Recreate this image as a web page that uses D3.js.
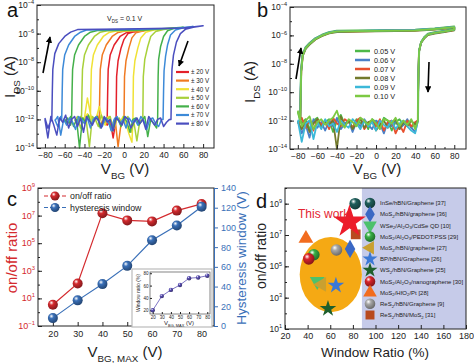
<!DOCTYPE html>
<html>
<head>
<meta charset="utf-8">
<script src="https://cdn.jsdelivr.net/npm/d3@7"></script>
<style>
body { margin: 0; background: #fff; }
svg { display: block; font-family: "Liberation Sans", Arial, sans-serif; }
</style>
</head>
<body>
<script>
// ---------- panel a: transfer curves for different sweep ranges ----------
var sweepMax = [20, 30, 40, 50, 60, 70, 80];
var sweepLabels = ["± 20 V", "± 30 V", "± 40 V", "± 50 V", "± 60 V", "± 70 V", "± 80 V"];
// on-state branches, [V, log10 I]
var aUp = [
  [[-17,-12],[-16.5,-10],[-16,-8.5],[-14,-7.5],[-10,-6.8],[-4,-6.2],[2,-5.95],[8,-5.86],[20,-5.8]],
  [[-25,-12],[-24.5,-10],[-24,-8.5],[-22,-7.5],[-18,-6.8],[-12,-6.2],[-6,-5.92],[0,-5.84],[30,-5.72]],
  [[-34,-12],[-33.5,-10],[-33,-8.5],[-31,-7.5],[-27,-6.8],[-21,-6.2],[-15,-5.92],[-8,-5.82],[20,-5.78],[40,-5.66]],
  [[-43,-12],[-42.5,-10],[-42,-8.5],[-40,-7.5],[-36,-6.8],[-30,-6.2],[-24,-5.9],[-17,-5.8],[20,-5.76],[50,-5.62]],
  [[-53,-12],[-52.5,-10],[-52,-8.5],[-50,-7.5],[-46,-6.8],[-40,-6.2],[-34,-5.9],[-27,-5.78],[20,-5.74],[60,-5.56]],
  [[-63,-12],[-62.5,-10],[-62,-8.5],[-60,-7.5],[-56,-6.8],[-50,-6.2],[-44,-5.9],[-38,-5.75],[0,-5.72],[50,-5.65],[70,-5.5]],
  [[-73,-12],[-72.5,-10],[-72,-8.5],[-70,-7.4],[-66,-6.7],[-60,-6.2],[-54,-5.9],[-47,-5.72],[0,-5.68],[60,-5.6],[80,-5.45]]
];
var aDown = [
  [[20,-5.8],[10,-5.88],[4,-6.0],[0,-6.4],[-3,-7.0],[-6,-7.9],[-7.5,-9],[-8,-12]],
  [[30,-5.72],[20,-5.8],[12,-5.95],[8,-6.3],[5,-7.0],[2,-7.9],[0.5,-9],[0,-12]],
  [[40,-5.66],[30,-5.75],[22,-5.9],[17,-6.3],[14,-7.0],[11,-7.9],[9.5,-9],[9,-12]],
  [[50,-5.62],[40,-5.72],[32,-5.85],[27,-6.2],[24,-6.9],[21,-7.8],[19.5,-9],[19,-12]],
  [[60,-5.56],[50,-5.65],[44,-5.8],[40,-6.2],[37,-6.9],[35,-7.8],[34.5,-9],[34,-12]],
  [[70,-5.5],[60,-5.6],[52,-5.75],[47,-6.1],[44,-6.8],[42,-7.6],[40.5,-8.6],[40,-10],[39.5,-12]],
  [[80,-5.45],[70,-5.55],[62,-5.7],[57,-6.0],[53,-6.6],[50,-7.5],[48.5,-8.5],[48,-10],[47.5,-12]]
];
// off-state noise, log10 I every 3 V starting at -Vmax
var aOffUp = [
  [-12.2,-11.9,-12.3],
  [-12.1,-11.8,-12.4],
  [-12.0,-11.6,-12.3],
  [-12.0,-12.4,-11.8],
  [-12.2,-11.9,-12.4],
  [-12.0,-12.5,-11.8],
  [-11.9,-12.6,-12.1]
];
var aOffDown = [
  [-11.9,-12.4,-12.1,-13.3],
  [-12.0,-11.7,-12.5,-11.9,-12.2,-11.8,-12.6,-12.0,-13.9,-12.3],
  [-11.9,-10.5,-11.6,-12.2,-11.9,-11.1,-12.0,-12.4,-11.8,-12.1,-12.6,-11.9,-12.2,-11.8,-12.3,-13.0,-13.6],
  [-12.1,-11.8,-12.6,-11.9,-12.2,-13.9,-11.8,-12.0,-12.5,-11.7,-12.2,-12.0,-11.8,-12.7,-12.1,-11.9,-12.3,-12.0,-11.8,-12.9,-12.2,-13.5,-12.1],
  [-12.0,-12.3,-11.8,-12.5,-12.0,-14.0,-11.9,-12.2,-11.7,-12.4,-12.0,-11.8,-12.6,-12.1,-11.9,-12.3,
   -12.8,-11.9,-12.0,-12.5,-11.8,-12.2,-12.9,-12.0,-11.9,-12.4,-12.1,-11.8,-13.2,-12.0,-12.3,-12.6],
  [-12.1,-11.8,-13.1,-12.0,-12.4,-11.9,-12.2,-12.7,-11.8,-12.0,-12.3,-11.9,-12.6,-12.0,-11.8,-12.2,
   -12.5,-11.9,-12.1,-12.8,-12.0,-11.8,-12.3,-12.0,-12.6,-11.9,-12.2,-12.0,-12.4,-11.8,-12.1,-12.7,-12.0,-11.9,-12.3,-12.5,-12.0],
  [-12.0,-13.3,-11.8,-12.4,-13.1,-11.9,-12.2,-11.7,-12.6,-12.0,-11.8,-12.5,-11.9,-12.9,-11.8,-12.1,
   -12.4,-11.9,-12.0,-12.6,-11.8,-12.2,-12.0,-12.8,-11.9,-12.1,-12.4,-11.8,-12.0,-12.6,-12.2,-11.9,
   -12.3,-12.0,-12.7,-11.8,-12.1,-12.4,-12.0,-11.9,-12.5,-12.2,-12.0]
];
var aColors = ["#e3202a", "#f07a22", "#f0e236", "#a8d03a", "#44b04a", "#3d8ad8", "#4a4ebf"];

// ---------- panel b: different drain voltages ----------
var dsLabels = ["0.05 V", "0.06 V", "0.07 V", "0.08 V", "0.09 V", "0.10 V"];
var bUp = [
  [[-77.8,-12],[-77.3,-10],[-76.8,-8.5],[-75.3,-7.35],[-72.3,-6.85],[-68.3,-6.55],[-62.3,-6.2],[-55.3,-5.95],[-48.3,-5.77],[-40.3,-5.67],[0,-5.63],[40,-5.59],[60,-5.5],[80,-5.37]],
  [[-77.6,-12],[-77.1,-10],[-76.6,-8.5],[-75.1,-7.38],[-72.1,-6.88],[-68.1,-6.58],[-62.1,-6.22],[-55.1,-5.97],[-48.1,-5.8],[-40.1,-5.7],[0,-5.66],[40,-5.62],[60,-5.53],[80,-5.4]],
  [[-77.5,-12],[-77,-10],[-76.5,-8.5],[-75,-7.42],[-72,-6.92],[-68,-6.62],[-62,-6.26],[-55,-6.01],[-48,-5.83],[-40,-5.73],[0,-5.69],[40,-5.65],[60,-5.57],[80,-5.44]],
  [[-77.4,-12],[-76.9,-10],[-76.4,-8.5],[-74.9,-7.45],[-71.9,-6.95],[-67.9,-6.65],[-61.9,-6.29],[-54.9,-6.04],[-47.9,-5.86],[-39.9,-5.76],[0,-5.72],[40,-5.68],[60,-5.6],[80,-5.47]],
  [[-77.6,-12],[-77.1,-10],[-76.6,-8.5],[-75.1,-7.4],[-72.1,-6.9],[-68.1,-6.6],[-62.1,-6.24],[-55.1,-5.99],[-48.1,-5.81],[-40.1,-5.71],[0,-5.67],[40,-5.63],[60,-5.55],[80,-5.42]],
  [[-77.5,-12],[-77,-10],[-76.5,-8.5],[-75,-7.4],[-72,-6.9],[-68,-6.6],[-62,-6.25],[-55,-6.0],[-48,-5.82],[-40,-5.72],[0,-5.68],[40,-5.64],[60,-5.55],[80,-5.42]]
];
var bDown = [
  [[80,-5.55],[70,-5.67],[60,-5.77],[53,-5.88],[49.5,-6.1],[46.2,-6.45],[44.2,-7.05],[43.6,-8.5],[43.2,-10],[43,-12]],
  [[80,-5.58],[70,-5.7],[60,-5.8],[53,-5.91],[49.5,-6.13],[46.1,-6.48],[44.1,-7.08],[43.5,-8.5],[43.1,-10],[42.9,-12]],
  [[80,-5.62],[70,-5.74],[60,-5.84],[53,-5.95],[49.5,-6.17],[46,-6.52],[44,-7.12],[43.4,-8.5],[43,-10],[42.8,-12]],
  [[80,-5.65],[70,-5.77],[60,-5.87],[53,-5.98],[49.5,-6.2],[45.9,-6.55],[43.9,-7.15],[43.3,-8.5],[42.9,-10],[42.7,-12]],
  [[80,-5.6],[70,-5.72],[60,-5.82],[53,-5.93],[49.5,-6.15],[46,-6.5],[44,-7.1],[43.4,-8.5],[43,-10],[42.8,-12]],
  [[80,-5.6],[70,-5.72],[60,-5.82],[53,-5.93],[49.5,-6.15],[46,-6.5],[44,-7.1],[43.4,-8.5],[43,-10],[42.8,-12]]
];
// off-state noise, log10 I every 4 V starting at -80 V
var bOff = [
  [-11.4,-12.2,-11.9,-12.6,-12.0,-11.8,-12.4,-12.1,-11.9,-12.8,-12.0,-11.6,-12.3,-12.0,-12.5,-11.9,
   -12.2,-12.0,-12.6,-11.9,-12.1,-12.4,-11.8,-12.0,-12.7,-12.1,-11.9,-12.3,-12.0,-12.5,-12.2],
  [-12.0,-12.9,-12.3,-13.2,-11.9,-12.5,-12.1,-12.7,-12.0,-12.4,-11.8,-12.6,-12.2,-12.0,-12.8,-12.1,
   -12.4,-11.9,-12.3,-12.6,-12.0,-12.2,-12.9,-12.1,-12.4,-12.0,-12.6,-12.3,-11.9,-12.5,-12.8],
  [-12.2,-11.8,-12.5,-12.0,-12.7,-11.9,-12.3,-12.0,-12.6,-11.8,-12.2,-12.4,-11.9,-12.1,-12.5,-12.0,
   -11.8,-12.6,-12.2,-12.0,-12.4,-11.9,-12.7,-12.1,-12.0,-12.9,-12.3,-12.8,-12.0,-12.4,-12.1],
  [-12.1,-12.6,-12.0,-12.8,-12.2,-11.9,-12.5,-12.1,-12.3,-12.0,-14.0,-11.7,-12.4,-12.0,-12.6,-12.2,
   -11.9,-12.5,-12.1,-12.0,-12.7,-12.3,-12.0,-12.5,-12.2,-11.9,-12.6,-12.1,-12.4,-12.0,-12.3],
  [-12.0,-13.5,-12.2,-12.0,-13.3,-12.1,-12.6,-11.9,-12.4,-12.2,-12.8,-12.0,-12.3,-12.5,-11.9,-12.2,
   -12.6,-12.0,-12.4,-12.1,-12.7,-12.0,-12.3,-12.5,-12.0,-12.6,-12.2,-12.0,-12.4,-12.7,-12.9],
  [-11.3,-12.4,-12.0,-11.7,-12.6,-12.1,-11.9,-12.3,-12.0,-11.8,-11.3,-12.2,-12.5,-11.9,-12.1,-12.4,
   -11.8,-12.0,-12.3,-11.9,-12.2,-12.6,-11.9,-12.0,-12.2,-11.8,-12.4,-12.0,-12.3,-11.9,-12.6]
];
var bColors = ["#4db848", "#4a80c8", "#e8502e", "#737a2c", "#3cb8d8", "#7cc943"];

// ---------- panel c ----------
var vbgMax = [20, 30, 40, 50, 60, 70, 80];
var onOffRatio = [3.5, 120, 1.5e7, 4.5e6, 3.8e6, 2.3e7, 7e7];
var hysWindow = [8, 26, 42.5, 61, 87, 102, 121];
var windowRatio = [20, 43, 53, 61, 72, 73, 76];

// ---------- panel d ----------
var devNames = [
  ["InSe/hBN/Graphene [37]"],
  ["MoS", "2", "/hBN/graphene [36]"],
  ["WSe", "2", "/Al", "2", "O", "3", "/CdSe QD [10]"],
  ["MoS", "2", "/Al", "2", "O", "3", "/PEDOT:PSS [29]"],
  ["MoS", "2", "/hBN/graphene [27]"],
  ["BP/hBN/Graphene [26]"],
  [" WS", "2", "/hBN/Graphene [25]"],
  ["MoS", "2", "/Al", "2", "O", "3", "/nanographene [30]"],
  ["MoS", "2", "/HfO", "2", "/Pt [28]"],
  ["ReS", "2", "/hBN/Graphene [9]"],
  ["ReS", "2", "/hBN/MoS", "2", " [31]"]
];
var devRatio = [82, 77.5, 48.5, 45.5, 52.5, 65, 58, 41, 38.5, 65.5, 82.5];
var devOnOff = [1e9, 1.3e6, 1.1e4, 5.5e5, 7e3, 6e3, 200, 3e5, 6e6, 1.1e6, 1.1e7];
var devShape = ["sphere", "diamond", "triDown", "sphere", "triLeft", "star", "star", "sphere", "triUp", "sphere", "square"];
var devColors = ["#1f5f5c", "#3a68c4", "#4cc16c", "#38b045", "#c9a030", "#3b78d6", "#1e5f2c", "#d8232a", "#f26c1e", "#a8a8a8", "#b84a1e"];
var thisWork = { ratio: 77, onOff: 7e7 };
var ellipseC = { ratio: 60.5, onOff: 3e4, halfRatio: 27.5, halfDecades: 2.4 };
var shadeFrom = 88;

// ================= drawing =================
var svg = d3.select("body").append("svg").attr("width", 474).attr("height", 363);
var defs = svg.append("defs");
defs.append("marker").attr("id", "arr").attr("viewBox", "0 0 10 10")
  .attr("refX", 9).attr("refY", 5).attr("markerWidth", 4).attr("markerHeight", 4)
  .attr("orient", "auto")
  .append("path").attr("d", "M0,0 L10,5 L0,10 z").attr("fill", "#000");

var gradN = 0;
function sphereFill(color) {
  var id = "sph" + (gradN++);
  var g = defs.append("radialGradient").attr("id", id)
    .attr("cx", "38%").attr("cy", "35%").attr("r", "65%").attr("fx", "35%").attr("fy", "30%");
  g.append("stop").attr("offset", "0%").attr("stop-color", "#ffffff");
  g.append("stop").attr("offset", "35%").attr("stop-color", color);
  g.append("stop").attr("offset", "100%").attr("stop-color", d3.color(color).darker(1.3));
  return "url(#" + id + ")";
}

function powLabel(g, x, y, exp, anchor, size, color) {
  var t = g.append("text").attr("x", x).attr("y", y).attr("text-anchor", anchor)
    .attr("font-size", size).attr("fill", color || "#222");
  t.append("tspan").text("10");
  t.append("tspan").attr("dy", -size * 0.45).attr("font-size", size * 0.65).text(exp);
  return t;
}

// parts: array of [text, isSub]
function richText(g, x, y, parts, size, color, rotate) {
  var t = g.append("text").attr("font-size", size).attr("fill", color || "#222").attr("text-anchor", "middle");
  if (rotate) t.attr("transform", "translate(" + x + "," + y + ") rotate(-90)");
  else t.attr("x", x).attr("y", y);
  var sub = false;
  parts.forEach(function (p) {
    var s = t.append("tspan").text(p[0]);
    if (p[1] && !sub) { s.attr("dy", size * 0.3).attr("font-size", size * 0.65); sub = true; }
    else if (p[1]) { s.attr("font-size", size * 0.65); }
    else if (sub) { s.attr("dy", -size * 0.3); sub = false; }
  });
  return t;
}

function styleAxis(g, size, color) {
  g.attr("font-size", size).attr("font-family", null);
  g.selectAll("path.domain").attr("stroke", "#222");
  g.selectAll(".tick line").attr("stroke", "#222");
  g.selectAll(".tick text").attr("fill", color || "#222");
}

function frame(g, x, y) {
  g.append("rect").attr("x", x.range()[0]).attr("y", y.range()[1])
    .attr("width", x.range()[1] - x.range()[0]).attr("height", y.range()[0] - y.range()[1])
    .attr("fill", "none").attr("stroke", "#222").attr("stroke-width", 1);
}

function logYAxis(g, y, x0, decades, labelled, size, color) {
  g.append("g").attr("transform", "translate(" + x0 + ",0)")
    .call(d3.axisLeft(y).tickValues(decades.map(function (e) { return Math.pow(10, e); }))
      .tickSizeInner(-2).tickSizeOuter(0).tickFormat(""))
    .call(function (a) { a.select(".domain").remove(); a.selectAll("line").attr("stroke", "#222"); });
  g.append("g").attr("transform", "translate(" + x0 + ",0)")
    .call(d3.axisLeft(y).tickValues(labelled.map(function (e) { return Math.pow(10, e); }))
      .tickSizeInner(-4).tickSizeOuter(0).tickFormat(""))
    .call(function (a) { a.select(".domain").remove(); a.selectAll("line").attr("stroke", "#222"); });
  labelled.forEach(function (e) {
    powLabel(g, x0 - 3, y(Math.pow(10, e)) + 3, String(e).replace("-", "\u2212"), "end", size, color);
  });
}

function linXAxis(g, x, y0, major, minor, size) {
  g.append("g").attr("transform", "translate(0," + y0 + ")")
    .call(d3.axisBottom(x).tickValues(minor).tickSizeInner(-2).tickSizeOuter(0).tickFormat(""))
    .call(function (a) { a.select(".domain").remove(); a.selectAll("line").attr("stroke", "#222"); });
  var ax = g.append("g").attr("transform", "translate(0," + y0 + ")")
    .call(d3.axisBottom(x).tickValues(major).tickSizeInner(-4).tickSizeOuter(0).tickPadding(4)
      .tickFormat(function (d) { return String(d).replace("-", "\u2212"); }));
  styleAxis(ax, size);
  ax.select(".domain").remove();
}

function arrow(g, x1, y1, x2, y2) {
  g.append("line").attr("x1", x1).attr("y1", y1).attr("x2", x2).attr("y2", y2)
    .attr("stroke", "#000").attr("stroke-width", 1.6).attr("marker-end", "url(#arr)");
}

function loopPoints(vmax, step, offUp, up, down, offDown) {
  var xL = up[0][0], xR = down[down.length - 1][0];
  var pts = [];
  offUp.forEach(function (v, i) { var V = -vmax + step * i; if (V < xL) pts.push([V, v]); });
  up.forEach(function (p) { pts.push(p); });
  down.forEach(function (p) { pts.push(p); });
  var back = [];
  offDown.forEach(function (v, i) { var V = -vmax + step * i; if (V < xR) back.push([V, v]); });
  back.reverse().forEach(function (p) { pts.push(p); });
  return pts;
}

var vTicks = [-80, -60, -40, -20, 0, 20, 40, 60, 80];
var vMinor = [-70, -50, -30, -10, 10, 30, 50, 70];

// ---------------- panel a ----------------
(function () {
  var g = svg.append("g");
  var x = d3.scaleLinear().domain([-88, 91]).range([37, 214]);
  var y = d3.scaleLog().domain([1e-14, 1e-4]).range([148, 5]);
  var line = d3.line().x(function (d) { return x(d[0]); }).y(function (d) { return y(Math.pow(10, d[1])); });
  sweepMax.forEach(function (vm, i) {
    g.append("path").attr("d", line(loopPoints(vm, 3, aOffUp[i], aUp[i], aDown[i], aOffDown[i])))
      .attr("fill", "none").attr("stroke", aColors[i]).attr("stroke-width", 1.5).attr("stroke-linejoin", "round");
  });
  frame(g, x, y);
  linXAxis(g, x, 148, vTicks, vMinor, 8.5);
  logYAxis(g, y, 37, d3.range(-14, -3), [-14, -12, -10, -8, -6, -4], 8.5);
  richText(g, 125, 174, [["V"], ["BG", 1], [" (V)"]], 15);
  richText(g, 15, 77, [["I"], ["DS", 1], [" (A)"]], 15, "#222", true);
  g.append("text").attr("x", 7).attr("y", 17).attr("font-size", 20).attr("fill", "#111").text("a");
  var vds = g.append("text").attr("x", 107).attr("y", 21).attr("font-size", 7).attr("fill", "#222");
  vds.append("tspan").text("V");
  vds.append("tspan").attr("dy", 2).attr("font-size", 4.5).text("DS");
  vds.append("tspan").attr("dy", -2).text(" = 0.1 V");
  sweepLabels.forEach(function (lab, i) {
    var yy = 72 + i * 8.6;
    g.append("line").attr("x1", 176).attr("x2", 189).attr("y1", yy).attr("y2", yy)
      .attr("stroke", aColors[i]).attr("stroke-width", 2.2);
    g.append("text").attr("x", 191).attr("y", yy + 2.3).attr("font-size", 6.3).attr("fill", "#222").text(lab);
  });
  arrow(g, 43, 73, 50, 37);
  arrow(g, 188, 41, 179, 66);
})();

// ---------------- panel b ----------------
(function () {
  var g = svg.append("g");
  var x = d3.scaleLinear().domain([-88, 92]).range([290, 466]);
  var y = d3.scaleLog().domain([1e-14, 1e-4]).range([149, 7]);
  var line = d3.line().x(function (d) { return x(d[0]); }).y(function (d) { return y(Math.pow(10, d[1])); });
  dsLabels.forEach(function (lab, i) {
    g.append("path").attr("d", line(loopPoints(80, 4, [bOff[i][0]], bUp[i], bDown[i], bOff[i])))
      .attr("fill", "none").attr("stroke", bColors[i]).attr("stroke-width", 1.8).attr("stroke-linejoin", "round");
  });
  frame(g, x, y);
  linXAxis(g, x, 149, vTicks, vMinor, 8.5);
  logYAxis(g, y, 290, d3.range(-14, -3), [-14, -12, -10, -8, -6, -4], 8.5);
  richText(g, 377, 174, [["V"], ["BG", 1], [" (V)"]], 15);
  richText(g, 255, 82, [["I"], ["DS", 1], [" (A)"]], 15, "#222", true);
  g.append("text").attr("x", 257).attr("y", 17).attr("font-size", 20).attr("fill", "#111").text("b");
  dsLabels.forEach(function (lab, i) {
    var yy = 51 + i * 9;
    g.append("line").attr("x1", 355).attr("x2", 370).attr("y1", yy).attr("y2", yy)
      .attr("stroke", bColors[i]).attr("stroke-width", 2.5);
    g.append("text").attr("x", 374).attr("y", yy + 2.6).attr("font-size", 7.3).attr("fill", "#222").text(lab);
  });
  arrow(g, 296, 79, 301, 48);
  arrow(g, 429, 62, 428, 92);
})();

// ---------------- panel c ----------------
var cRed = "#d42a2e", cBlue = "#3a70b8";
(function () {
  var g = svg.append("g");
  var x = d3.scaleLinear().domain([14, 85]).range([38, 214]);
  var yL = d3.scaleLog().domain([1e-1, 1e9]).range([326, 188]);
  var yR = d3.scaleLinear().domain([0, 140]).range([326, 188]);
  frame(g, x, yL);
  var ax = g.append("g").attr("transform", "translate(0,326)")
    .call(d3.axisBottom(x).tickValues(vbgMax).tickSizeInner(-4).tickSizeOuter(0).tickPadding(5));
  styleAxis(ax, 9); ax.select(".domain").remove();
  logYAxis(g, yL, 38, d3.range(-1, 10), [-1, 1, 3, 5, 7, 9], 9, cRed);
  var ar = g.append("g").attr("transform", "translate(214,0)")
    .call(d3.axisRight(yR).tickValues(d3.range(0, 141, 20)).tickSizeInner(4).tickSizeOuter(0).tickPadding(3));
  styleAxis(ar, 9, cBlue);
  ar.select(".domain").attr("stroke", cBlue);
  ar.selectAll(".tick line").attr("stroke", cBlue);

  var lineL = d3.line().x(function (d, i) { return x(vbgMax[i]); }).y(function (d) { return yL(d); });
  var lineR = d3.line().x(function (d, i) { return x(vbgMax[i]); }).y(function (d) { return yR(d); });
  g.append("path").attr("d", lineL(onOffRatio)).attr("fill", "none").attr("stroke", cRed).attr("stroke-width", 1.2);
  g.append("path").attr("d", lineR(hysWindow)).attr("fill", "none").attr("stroke", cBlue).attr("stroke-width", 1.2);
  var fr = sphereFill(cRed), fb = sphereFill(cBlue);
  g.selectAll(".pr").data(onOffRatio).enter().append("circle")
    .attr("cx", function (d, i) { return x(vbgMax[i]); }).attr("cy", function (d) { return yL(d); })
    .attr("r", 5).attr("fill", fr);
  g.selectAll(".pb").data(hysWindow).enter().append("circle")
    .attr("cx", function (d, i) { return x(vbgMax[i]); }).attr("cy", function (d) { return yR(d); })
    .attr("r", 5).attr("fill", fb);

  [["on/off ratio", cRed, fr], ["hysteresis window", cBlue, fb]].forEach(function (r, i) {
    var yy = 196 + i * 11.5;
    g.append("line").attr("x1", 44).attr("x2", 66).attr("y1", yy).attr("y2", yy).attr("stroke", r[1]).attr("stroke-width", 1.2)
      .attr("stroke-dasharray", "4,2");
    g.append("circle").attr("cx", 55).attr("cy", yy).attr("r", 4.5).attr("fill", r[2]);
    g.append("text").attr("x", 70).attr("y", yy + 3).attr("font-size", 8.8).attr("fill", "#222").text(r[0]);
  });

  richText(g, 125, 357, [["V"], ["BG, MAX", 1], [" (V)"]], 15);
  richText(g, 17, 258, [["on/off ratio"]], 15, cRed, true);
  g.append("text").attr("x", 7).attr("y", 206).attr("font-size", 20).attr("fill", "#111").text("c");

  // inset
  var ix = d3.scaleLinear().domain([17, 83]).range([150, 210]);
  var iy = d3.scaleLinear().domain([14, 82]).range([314, 272]);
  g.append("rect").attr("x", 132).attr("y", 269).attr("width", 80).attr("height", 58)
    .attr("fill", "#fff").attr("stroke", "#bbb").attr("stroke-width", 1.2);
  g.append("rect").attr("x", 150).attr("y", 272).attr("width", 60).attr("height", 42)
    .attr("fill", "none").attr("stroke", "#333").attr("stroke-width", 0.6);
  var iax = g.append("g").attr("transform", "translate(0,314)")
    .call(d3.axisBottom(ix).tickValues(vbgMax).tickSizeInner(-2).tickSizeOuter(0).tickPadding(1.5));
  styleAxis(iax, 4.5); iax.select(".domain").remove();
  var iay = g.append("g").attr("transform", "translate(150,0)")
    .call(d3.axisLeft(iy).tickValues([20, 40, 60, 80]).tickSizeInner(-2).tickSizeOuter(0).tickPadding(1.5));
  styleAxis(iay, 4.5); iay.select(".domain").remove();
  var purple = "#5a4fb4";
  var iline = d3.line().x(function (d, i) { return ix(vbgMax[i]); }).y(function (d) { return iy(d); });
  g.append("path").attr("d", iline(windowRatio)).attr("fill", "none").attr("stroke", purple).attr("stroke-width", 0.8);
  var fp = sphereFill(purple);
  g.selectAll(".pi").data(windowRatio).enter().append("circle")
    .attr("cx", function (d, i) { return ix(vbgMax[i]); }).attr("cy", function (d) { return iy(d); })
    .attr("r", 2.2).attr("fill", fp);
  richText(g, 179, 325, [["V"], ["BG, MAX", 1], [" (V)"]], 6);
  richText(g, 140, 293, [["Window ratio (%)"]], 5, "#222", true);
})();

// ---------------- panel d ----------------
(function () {
  var g = svg.append("g");
  var x = d3.scaleLinear().domain([20, 180]).range([285, 466]);
  var y = d3.scaleLog().domain([1e1, 1e10]).range([329, 188]);
  g.append("rect").attr("x", x(shadeFrom)).attr("y", y.range()[1])
    .attr("width", x(180) - x(shadeFrom)).attr("height", y.range()[0] - y.range()[1])
    .attr("fill", "#c6cbe9");
  var ecx = x(ellipseC.ratio), ecy = y(ellipseC.onOff);
  g.append("ellipse").attr("cx", ecx).attr("cy", ecy)
    .attr("rx", x(ellipseC.ratio + ellipseC.halfRatio) - ecx)
    .attr("ry", ecy - y(ellipseC.onOff * Math.pow(10, ellipseC.halfDecades)))
    .attr("fill", "#f5a914");
  frame(g, x, y);
  var ax = g.append("g").attr("transform", "translate(0,329)")
    .call(d3.axisBottom(x).tickValues(d3.range(20, 181, 20)).tickSizeInner(-4).tickSizeOuter(0).tickPadding(4));
  styleAxis(ax, 9); ax.select(".domain").remove();
  logYAxis(g, y, 285, d3.range(1, 11), [1, 3, 5, 7, 9], 8.5);

  function marker(sel, shape, color, size) {
    if (shape === "sphere") {
      return sel.append("circle").attr("r", Math.sqrt(size / Math.PI) * 1.05).attr("fill", sphereFill(color));
    }
    var sym = { diamond: d3.symbolDiamond, triDown: d3.symbolTriangle, triUp: d3.symbolTriangle, triLeft: d3.symbolTriangle,
      star: d3.symbolStar, square: d3.symbolSquare }[shape];
    var rot = { triDown: 180, triLeft: -90 }[shape] || 0;
    return sel.append("path").attr("d", d3.symbol().type(sym).size(size)()).attr("fill", color)
      .attr("transform", "rotate(" + rot + ")");
  }

  devRatio.forEach(function (r, i) {
    var m = g.append("g").attr("transform", "translate(" + x(r) + "," + y(devOnOff[i]) + ")");
    marker(m, devShape[i], devColors[i], devShape[i] === "star" ? 85 : 95);
  });
  var tw = g.append("g").attr("transform", "translate(" + x(thisWork.ratio) + "," + y(thisWork.onOff) + ")");
  tw.append("path").attr("d", d3.symbol().type(d3.symbolStar).size(330)()).attr("fill", "#ec1c2a");
  g.append("text").attr("x", 298).attr("y", 218).attr("font-size", 12).attr("fill", "#e42330").text("This work");

  devNames.forEach(function (parts, i) {
    var yy = 203 + i * 11.2;
    var m = g.append("g").attr("transform", "translate(370," + yy + ")");
    marker(m, devShape[i], devColors[i], devShape[i] === "star" ? 70 : 80);
    var t = g.append("text").attr("x", 380).attr("y", yy + 2.2).attr("font-size", 6).attr("fill", "#222");
    parts.forEach(function (p, k) {
      var s = t.append("tspan").text(p);
      if (k % 2 === 1) s.attr("dy", 1.6).attr("font-size", 4.2);
      else if (k > 0) s.attr("dy", -1.6);
    });
  });

  richText(g, 375, 357, [["Window Ratio (%)"]], 13.5);
  richText(g, 266, 256, [["on/off ratio"]], 14, "#222", true);
  richText(g, 246, 258, [["Hysteresis window (V)"]], 13.5, cBlue, true);
  g.append("text").attr("x", 256).attr("y", 208).attr("font-size", 20).attr("fill", "#111").text("d");
})();
</script>
</body>
</html>
